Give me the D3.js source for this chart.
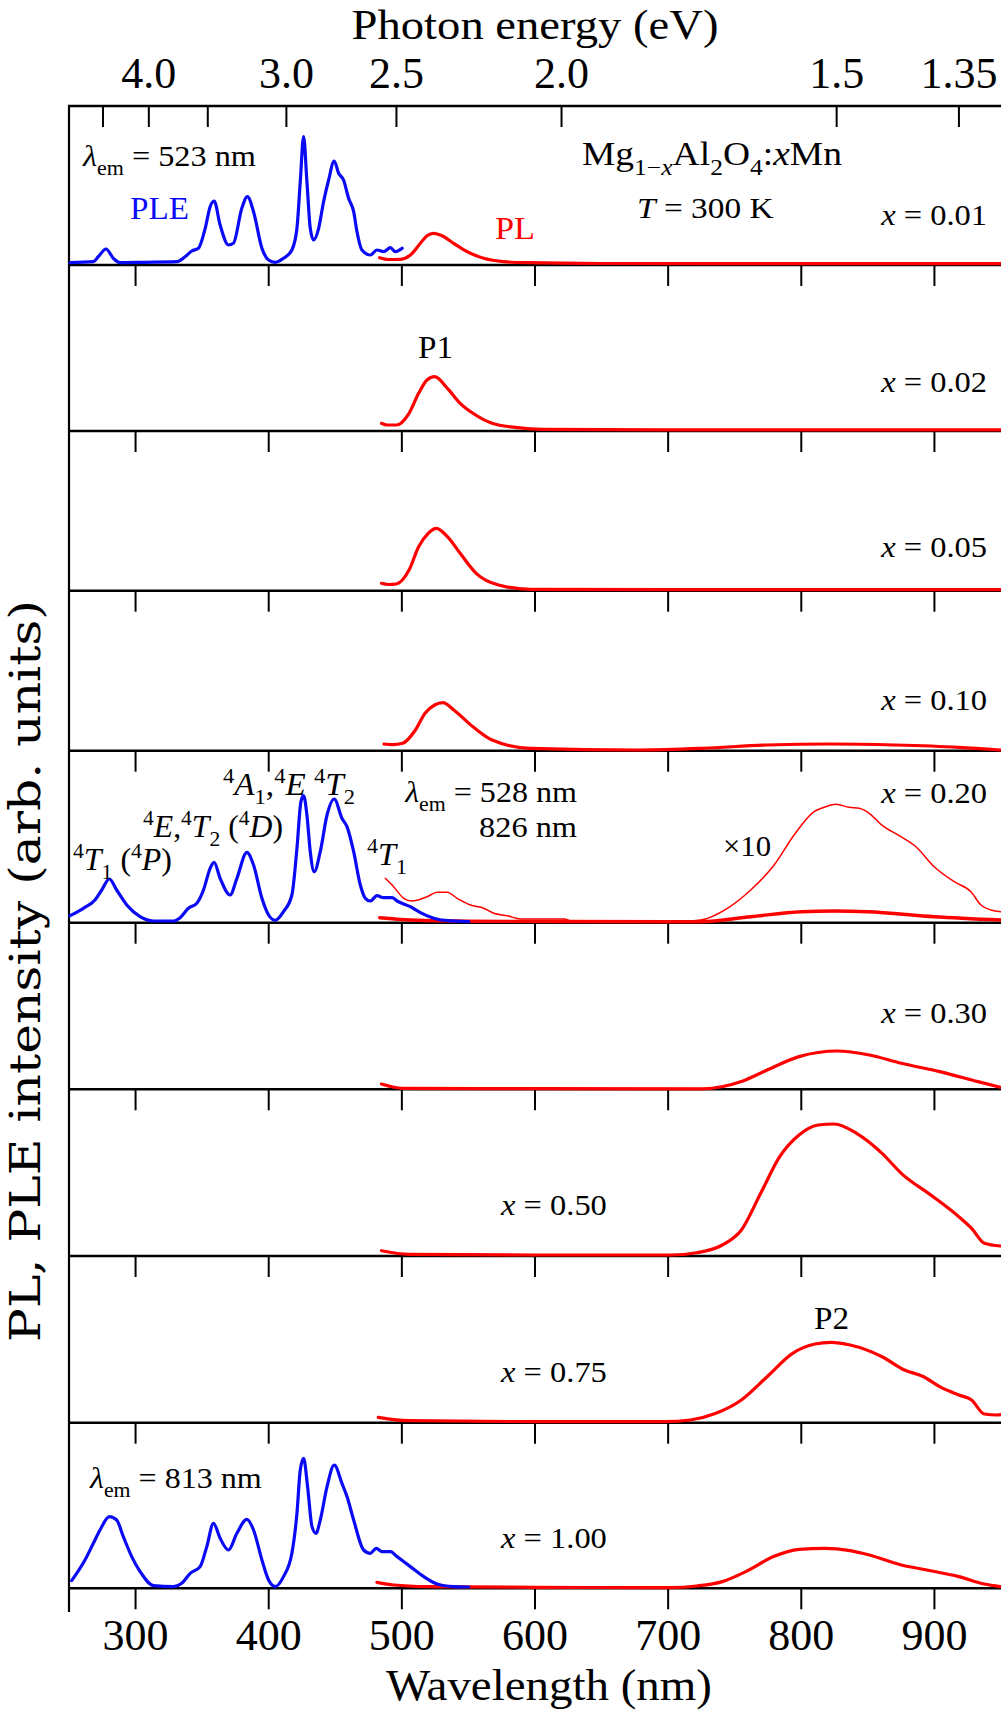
<!DOCTYPE html>
<html><head><meta charset="utf-8">
<script src="https://cdn.jsdelivr.net/npm/d3@7"></script>
<style>html,body{margin:0;padding:0;background:#fff}</style>
</head><body>
<svg id="c" width="1001" height="1712"></svg>
<script>
// ---------------- DATA ----------------
const WL_TICKS = [300, 400, 500, 600, 700, 800, 900];
const EV_TICKS = [4.5, 4.0, 3.5, 3.0, 2.5, 2.0, 1.5, 1.35];
const EV_LABELS = ["", "4.0", "", "3.0", "2.5", "2.0", "1.5", "1.35"];
const X_VALUES = ["0.01", "0.02", "0.05", "0.10", "0.20", "0.30", "0.50", "0.75", "1.00"];

// [wavelength nm, intensity arb. units]
const PLE_001 = [[250.8,2.3],[268.3,3.3],[272,8.3],[277.8,16],[283.3,6.7],[288.3,2.3],[305.9,2.7],[331,3.3],[337.2,8.3],[342.2,14],[347.2,16.7],[352.3,36.7],[356,58.3],[359,64],[363.5,40],[369.8,20],[373.5,21.7],[379.8,56.7],[384,68.3],[388.6,53.3],[394.9,16.7],[399.9,5],[404.9,2.7],[411.1,6.7],[417.4,15],[421.2,36.7],[423.7,83.3],[426.2,128.3],[428.7,83.3],[431.2,36.7],[433.7,25],[437.5,36.7],[441.2,63.3],[445,85],[449.2,104],[452.5,91.7],[456.2,85],[460,66.7],[463.8,53.3],[466.3,33.3],[470,15],[476.3,10],[481.3,15],[486.3,13.3],[491.4,17.3],[495.1,13.3],[500.2,16.7]];
const PL_001 = [[483.3,7.3],[490,5.5],[498.9,5.7],[506.4,10],[513.9,21.7],[518.9,29.3],[523.9,31.7],[530.2,29.3],[538.9,21.7],[549,13.3],[561.5,6.7],[576.5,3.3],[594,2.3],[650,1.5],[800,1.3],[950,1.3]];
const PL_002 = [[484.7,7.7],[489,6],[495.8,6],[505.4,17.7],[512.6,37.7],[518.9,51],[524.6,54.3],[534.2,42.7],[543.8,27.7],[553.4,17.7],[567.8,7.7],[587,3.3],[606.2,1.7],[700,1.2],[950,1.2]];
const PL_005 = [[484.7,7.4],[490,6.2],[495.8,6.7],[505.4,20.7],[512.6,44],[519.8,57.4],[526,62.4],[534.2,54],[543.8,37.4],[555.8,17.4],[572.6,5.7],[596.6,1.4],[700,1],[950,1]];
const PL_010 = [[486.6,6.7],[493,6],[500.6,7.4],[510.2,20.7],[517.4,37.4],[524.6,45.7],[530.8,48],[539,40.7],[553.4,24],[567.8,10.7],[596.6,2.4],[678.3,0.7],[726.2,2.4],[774.3,5.7],[822.2,6.7],[870.3,5.7],[918.3,3.4],[949.5,0.7]];
const PLE_020 = [[250.8,7],[260.8,14.4],[269.5,22.7],[274.6,32.7],[280.3,43.7],[285.8,32.7],[293.4,17.7],[303.4,6],[313.4,1.7],[328.4,1.7],[333.5,5],[339.7,14.4],[346,19.4],[351,32.7],[356,54.4],[359,60.4],[363.5,44.4],[371,27.7],[376.1,44.4],[383.6,70.4],[388.6,57.7],[394.9,24.4],[399.9,7.7],[404.9,2.4],[411.1,11],[417.4,27.7],[421.2,74.4],[424.2,121],[426.2,127],[428.7,107.7],[431.2,71],[434.2,51],[438.7,71],[443.8,107.7],[449.2,123.7],[455,104.4],[458.8,96],[463.8,71],[468.8,37.7],[472.6,24.4],[476.3,21.7],[481.3,27],[486.3,25],[492.6,25],[496.4,21.7],[506.4,16],[513.9,10],[523.9,4.4],[534,2],[550.2,1]];
const PL_020 = [[483.3,5],[506.4,2.7],[550,1.5],[700,1],[724.4,1],[762,6],[800,11],[825,11.7],[849.8,11],[899.8,6],[950,2.7]];
const PL_020_X10 = [[487.6,44.4],[493.8,36],[501.4,24.4],[507.6,21.7],[518.9,26],[526.5,30.4],[534,30.4],[541.5,24.4],[551.5,17.7],[561.5,14.4],[569,9.4],[579.1,7],[589.1,3.7],[621.7,3.7],[629.2,1],[699.4,0.4],[724.4,2.7],[744.5,14.4],[762,32.7],[779.6,57.7],[794.6,87.7],[809.6,111],[818.4,116],[826,118.4],[836,115.4],[843.5,114.4],[851,109.4],[859.8,98.4],[874.8,86],[886.1,76],[899.8,56],[914.9,41],[927.4,31],[934.9,17.7],[942.5,12.7],[950,11]];
const PL_030 = [[484.7,5.3],[500.6,1],[600,0.6],[726.2,0.5],[755,7.7],[774.3,19.3],[798.3,32.7],[827.1,38.3],[851.1,34.3],[875.1,26],[903.9,17.7],[932.7,7.7],[949.5,2]];
const PL_050 = [[484.7,5.3],[505.4,1.7],[600,1],[702.2,1],[721.4,3.3],[740.7,11],[755,26],[769.5,62.7],[783.8,99.3],[798.3,121],[812.7,131],[824.7,132],[841.5,122.7],[860.7,102.7],[875.1,82.7],[899.1,59.3],[918.3,39.3],[927.9,27.7],[937.5,12.7],[949.5,10]];
const PL_075 = [[482.3,5.4],[505.4,2],[600,1],[697.4,1],[716.7,2.7],[735.9,9.4],[755,22.7],[774.3,46],[793.5,69.4],[810.3,78.7],[822.3,80.4],[836.7,77.7],[860.7,66],[877.5,52.7],[891.9,46],[903.9,36],[918.3,27.7],[927.9,22.7],[937.5,8.7],[947,7.7],[950,8]];
const PLE_100 = [[252,7.7],[262,28.3],[268.3,45],[273.3,58.3],[280.3,71.7],[285.8,68.3],[290.8,51.7],[297.1,31.7],[303.4,16.7],[313.4,2.7],[328.4,1.7],[334.7,5],[341,15],[348.5,21.7],[353.5,41.7],[358.5,65],[363.5,50],[369.8,38.3],[376.1,55],[383.6,69],[388.6,58.3],[394.9,28.3],[399.9,8.3],[404.9,1.7],[411.1,11.7],[417.4,35],[421.2,75],[423.7,118.3],[426.2,130],[429.2,101.7],[432.5,61.7],[435.5,55],[438.7,68.3],[443.8,101.7],[449.2,123.3],[455,105],[458.8,91.7],[463.8,68.3],[471.3,38.3],[476.3,35],[480.8,40],[485.1,36.7],[491.4,36.7],[496.4,31.7],[506.4,21.7],[516.4,11.7],[526.5,4.3],[539,1.7],[550.2,1.3]];
const PL_100 = [[481.3,6],[493.8,3.3],[518.9,1.7],[600,1],[702.2,0.7],[721.4,2.3],[740.7,6.7],[759.8,17.7],[779.1,31.7],[798.3,39],[817.5,40],[836.7,37.7],[851.1,33.3],[875.1,23.3],[894.3,18.3],[918.3,11.7],[937.5,4.3],[949.5,1.7]];

// ---------------- LAYOUT ----------------
const SERIF = "'Liberation Serif','Times New Roman',Times,serif";
const TOP = 106;
const BASE = [265, 431, 590.7, 750.7, 922.7, 1089.3, 1256, 1422.7, 1588.3];
const BLUE = "#0a0af5", RED = "#ff0000";
const HC = 1239.84;

const svg = d3.select("#c");
const x = d3.scaleLinear().domain([250, 950]).range([69, 1001]);
const yFor = i => d3.scaleLinear().domain([0, 100]).range([BASE[i], BASE[i] - 100]);

// rich text helper: parts = strings or {t, it, sub, sup}
function rich(px, py, parts, opt) {
  const size = opt.size || 31, anchor = opt.anchor || "start";
  const g = svg.append("g");
  const t = g.append("text").attr("font-family", opt.family || SERIF).attr("font-size", size)
    .attr("text-anchor", anchor).attr("fill", opt.fill || "#000").style("white-space", "pre");
  let cur = 0;
  parts.forEach(p => {
    const o = typeof p === "string" ? {t: p} : p;
    const off = o.sub ? size * 0.30 : (o.sup ? -size * 0.40 : 0);
    const ts = t.append("tspan").text(o.t).attr("dy", off - cur);
    cur = off;
    if (o.sub || o.sup) ts.attr("font-size", size * 0.68);
    if (o.it) ts.attr("font-style", "italic");
  });
  let sx = 1;
  if (opt.width) { const w = t.node().getBBox().width; if (w > 0) sx = opt.width / w; }
  g.attr("transform", `translate(${px},${py})${opt.rot ? " rotate(" + opt.rot + ")" : ""} scale(${sx},1)`);
  return g;
}

// ---------------- AXES ----------------
svg.append("line").attr("x1", 69).attr("x2", 69).attr("y1", TOP - 1).attr("y2", 1612)
  .attr("stroke", "#000").attr("stroke-width", 2.2);
svg.append("line").attr("x1", 68).attr("x2", 1001).attr("y1", TOP).attr("y2", TOP)
  .attr("stroke", "#000").attr("stroke-width", 2.6);
EV_TICKS.forEach((e, k) => {
  const px = x(HC / e);
  svg.append("line").attr("x1", px).attr("x2", px).attr("y1", TOP).attr("y2", TOP + 21)
    .attr("stroke", "#000").attr("stroke-width", 2);
  if (EV_LABELS[k]) rich(px, 88, [EV_LABELS[k]], {size: 44, anchor: "middle"});
});
rich(535, 39, ["Photon energy (eV)"], {size: 42, anchor: "middle", width: 367});

BASE.forEach((b, i) => {
  svg.append("line").attr("x1", 68).attr("x2", 1001).attr("y1", b).attr("y2", b)
    .attr("stroke", "#000").attr("stroke-width", 2.6);
  WL_TICKS.forEach(w => {
    svg.append("line").attr("x1", x(w)).attr("x2", x(w)).attr("y1", b).attr("y2", b + 21)
      .attr("stroke", "#000").attr("stroke-width", 2);
  });
});
WL_TICKS.forEach(w => rich(x(w), 1650, [String(w)], {size: 44, anchor: "middle"}));
rich(549, 1700, ["Wavelength (nm)"], {size: 44, anchor: "middle", width: 326});
rich(40, 971, ["PL, PLE intensity (arb. units)"], {size: 43, anchor: "middle", width: 742, rot: -90, family: "'DejaVu Serif',serif"});

// ---------------- CURVES ----------------
const SERIES = [
  {p: 0, d: PL_001, c: RED, w: 3.2}, {p: 0, d: PLE_001, c: BLUE, w: 3.2},
  {p: 1, d: PL_002, c: RED, w: 3.2},
  {p: 2, d: PL_005, c: RED, w: 3.2},
  {p: 3, d: PL_010, c: RED, w: 3.2},
  {p: 4, d: PL_020_X10, c: RED, w: 1.5}, {p: 4, d: PL_020, c: RED, w: 3.4}, {p: 4, d: PLE_020, c: BLUE, w: 3.2},
  {p: 5, d: PL_030, c: RED, w: 3.2},
  {p: 6, d: PL_050, c: RED, w: 3.2},
  {p: 7, d: PL_075, c: RED, w: 3.2},
  {p: 8, d: PL_100, c: RED, w: 3.2}, {p: 8, d: PLE_100, c: BLUE, w: 3.2}
];
SERIES.forEach(s => {
  const y = yFor(s.p);
  const line = d3.line().x(d => x(d[0])).y(d => y(d[1])).curve(d3.curveMonotoneX);
  svg.append("path").attr("d", line(s.d)).attr("fill", "none").attr("stroke", s.c)
    .attr("stroke-width", s.w).attr("stroke-linejoin", "round").attr("stroke-linecap", "round");
});

// ---------------- LABELS ----------------
const XLAB_POS = [
  {x: 987, y: 225, a: "end"}, {x: 987, y: 392, a: "end"}, {x: 987, y: 557, a: "end"},
  {x: 987, y: 710, a: "end"}, {x: 987, y: 803, a: "end"}, {x: 987, y: 1023, a: "end"},
  {x: 501, y: 1215, a: "start"}, {x: 501, y: 1382, a: "start"}, {x: 501, y: 1548, a: "start"}
];
X_VALUES.forEach((v, i) => {
  const p = XLAB_POS[i];
  rich(p.x, p.y, [{t: "x", it: true}, " = " + v], {size: 30, anchor: p.a, width: 107});
});

rich(83, 166, [{t: "λ", it: true}, {t: "em", sub: true}, " = 523 nm"], {size: 30, width: 174});
rich(130, 219, ["PLE"], {size: 31, fill: BLUE, width: 59});
rich(495, 239, ["PL"], {size: 31, fill: RED, width: 40});
rich(582, 165, ["Mg", {t: "1−", sub: true}, {t: "x", sub: true, it: true}, "Al", {t: "2", sub: true}, "O", {t: "4", sub: true}, ":", {t: "x", it: true}, "Mn"], {size: 33, width: 260});
rich(637, 218, [{t: "T", it: true}, " = 300 K"], {size: 30, width: 137});
rich(418, 358, ["P1"], {size: 32, width: 35});
rich(814, 1329, ["P2"], {size: 32, width: 35});

rich(73, 870, [{t: "4", sup: true}, {t: "T", it: true}, {t: "1", sub: true}, " (", {t: "4", sup: true}, {t: "P", it: true}, ")"], {size: 31, width: 99});
rich(143, 837, [{t: "4", sup: true}, {t: "E", it: true}, ",", {t: "4", sup: true}, {t: "T", it: true}, {t: "2", sub: true}, " (", {t: "4", sup: true}, {t: "D", it: true}, ")"], {size: 31, width: 140});
rich(223, 795, [{t: "4", sup: true}, {t: "A", it: true}, {t: "1", sub: true}, ",", {t: "4", sup: true}, {t: "E", it: true}, " ", {t: "4", sup: true}, {t: "T", it: true}, {t: "2", sub: true}], {size: 31, width: 132});
rich(367, 865, [{t: "4", sup: true}, {t: "T", it: true}, {t: "1", sub: true}], {size: 31, width: 40});
rich(577, 802, [{t: "λ", it: true}, {t: "em", sub: true}, " = 528 nm"], {size: 30, anchor: "end", width: 173});
rich(577, 837, ["826 nm"], {size: 30, anchor: "end", width: 98});
rich(723, 856, ["×10"], {size: 30, width: 48});
rich(90, 1488, [{t: "λ", it: true}, {t: "em", sub: true}, " = 813 nm"], {size: 30, width: 173});
</script>
</body></html>
